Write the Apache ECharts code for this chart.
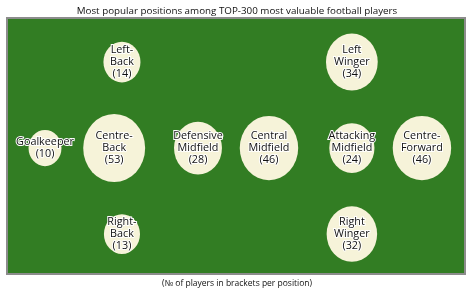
<!DOCTYPE html>
<html>
<head>
<meta charset="utf-8">
<script src="https://cdn.jsdelivr.net/npm/echarts@6/dist/echarts.min.js"></script>
<style>
html, body { margin: 0; padding: 0; background: #fff; }
#chart { width: 474px; height: 295px; }
</style>
</head>
<body>
<div id="chart"></div>
<script>
// positions on the pitch (pitch coordinates, 0-100 both ways)
var positions = ['Goalkeeper', 'Centre-\nBack', 'Left-\nBack', 'Right-\nBack', 'Defensive\nMidfield',
	'Central\nMidfield', 'Attacking\nMidfield', 'Left\nWinger', 'Right\nWinger', 'Centre-\nForward'];
var players = [10, 53, 14, 13, 28, 46, 24, 34, 32, 46];
var pitch_x = [8.3, 23.4, 25.1, 25.1, 41.7, 57.2, 75.3, 75.3, 75.3, 90.6];
var pitch_y = [49.2, 49.2, 82.8, 15.6, 49.2, 49.2, 49.2, 82.8, 15.6, 49.2];

var font = 'Open Sans';

var points = [];
for (var i = 0; i < positions.length; i++) {
	points.push({ name: positions[i], value: [pitch_x[i], pitch_y[i], players[i]] });
}

var chart = echarts.init(document.getElementById('chart'));
chart.setOption({
	animation: false,
	title: [{
		text: 'Most popular positions among TOP-300 most valuable football players',
		left: 'center', top: 1,
		textStyle: { fontFamily: font, fontSize: 9.8, fontWeight: 'normal', color: '#111' }
	}, {
		text: '(№ of players in brackets per position)',
		left: 'center', top: 274,
		textStyle: { fontFamily: font, fontSize: 8.5, fontWeight: 'normal', color: '#111' }
	}],
	grid: {
		left: 7, right: 9, top: 18, bottom: 21,
		show: true,
		backgroundColor: '#327d23',
		borderColor: '#8c8c8c',
		borderWidth: 2
	},
	xAxis: { type: 'value', min: 0, max: 100, show: false },
	yAxis: { type: 'value', min: 0, max: 100, show: false },
	series: [{
		type: 'scatter',
		data: points,
		symbol: 'circle',
		symbolSize: function (v) {
			var w = 10.7 + 7.04 * Math.sqrt(v[2]);
			return [w, w * 1.1];
		},
		itemStyle: { color: '#f6f3d9', opacity: 1 },
		label: {
			show: true,
			position: 'inside',
			formatter: function (p) { return p.name + '\n(' + p.value[2] + ')'; },
			fontFamily: font,
			fontSize: 10.8,
			lineHeight: 12,
			color: '#111',
			textBorderColor: '#fff',
			textBorderWidth: 2
		}
	}]
});
</script>
</body>
</html>
